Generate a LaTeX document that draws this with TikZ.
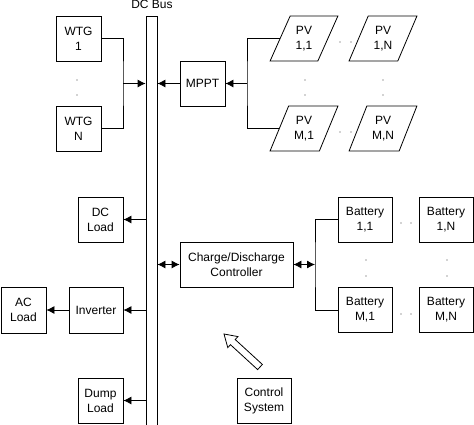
\documentclass[tikz,border=0pt]{standalone}
\usepackage{fontspec}
\setmainfont{Liberation Sans}
\usetikzlibrary{arrows.meta, positioning, shapes.geometric, calc}

\begin{document}
\begin{tikzpicture}[
  x=1pt, y=-1pt,
  every node/.style={font=\fontsize{12}{15}\selectfont},
  box/.style={draw, line width=0.8pt, minimum width=45pt, minimum height=45pt,
    align=center, inner sep=1pt},
  pvbox/.style={draw, line width=0.8pt, trapezium, trapezium left angle=64,
    trapezium right angle=116, trapezium stretches=true, minimum width=68pt,
    minimum height=45pt, align=center, inner sep=0pt},
  line/.style={line width=0.8pt},
  arrow/.style={line width=0.8pt, -{Latex[length=8pt,width=8pt]}},
  dbl/.style={line width=0.8pt, {Latex[length=8pt,width=8pt]}-{Latex[length=8pt,width=8pt]}},
  dot/.style={fill=gray!70}
]
\useasboundingbox (0,0) rectangle (474,424);

% bus
\node[draw, line width=0.8pt, minimum width=11pt, minimum height=420pt,
  inner sep=0pt, anchor=north] (bus) at (151.5,16) {};
\node[anchor=base] (buslabel) at (152,8) {DC Bus};

% wind turbines
\node[box] (wtg1) at (78.5,38.5) {WTG\\1};
\node[box] (wtgN) at (78.5,128.5) {WTG\\N};
\coordinate (wj) at (123,83.5);
\draw[line] (wtg1.east) -| (wj) |- (wtgN.east);
\draw[arrow] (wj) -- (wj -| bus.west);

% photovoltaic side
\node[box] (mppt) at (202.5,83.5) {MPPT};
\node[pvbox] (pv11) at (304,38.5) {PV\\1,1};
\node[pvbox] (pv1N) at (383,38.5) {PV\\1,N};
\node[pvbox] (pvM1) at (304,128.5) {PV\\M,1};
\node[pvbox] (pvMN) at (383,128.5) {PV\\M,N};
\coordinate (pj) at (247,83.5);
\draw[line] (pv11.west) -| (pj) |- (pvM1.west);
\draw[arrow] (pj) -- (mppt.east);
\draw[arrow] (mppt.west) -- (mppt.west -| bus.east);

% loads
\node[box] (dcload) at (100.5,219.5) {DC\\Load};
\node[box, minimum width=54pt, minimum height=46pt] (inverter) at (96,310) {Inverter};
\node[box, minimum height=46pt] (acload) at (23.5,310) {AC\\Load};
\node[box] (dumpload) at (100.5,400.5) {Dump\\Load};
\draw[arrow] (dcload.east -| bus.west) -- (dcload.east);
\draw[arrow] (inverter.east -| bus.west) -- (inverter.east);
\draw[arrow] (inverter.west) -- (acload.east);
\draw[arrow] (dumpload.east -| bus.west) -- (dumpload.east);

% storage
\node[box, minimum width=113pt] (ctrl) at (236.5,264.5) {Charge/Discharge\\Controller};
\node[box, minimum width=54pt] (bat11) at (365,219.5) {Battery\\1,1};
\node[box, minimum width=54pt] (bat1N) at (446,219.5) {Battery\\1,N};
\node[box, minimum width=54pt] (batM1) at (365,310) {Battery\\M,1};
\node[box, minimum width=54pt] (batMN) at (446,310) {Battery\\M,N};
\coordinate (bj) at (315,264.5);
\draw[line] (bat11.west) -| (bj) |- (batM1.west);
\draw[dbl] (ctrl.east) -- (bj);
\draw[dbl] (ctrl.west -| bus.east) -- (ctrl.west);

% control
\node[box, minimum width=54pt] (ctrlsys) at (264,400.5) {Control\\System};
\coordinate (ctip) at (224,334);
\coordinate (ctail) at (260,367);
\coordinate (chead) at ($(ctip)!12pt!(ctail)$);
\draw[line, fill=white] (ctip) -- ($(chead)!7.5pt!90:(ctip)$) -- ($(chead)!3.5pt!90:(ctip)$)
  -- ($(ctail)!3.5pt!90:(ctip)$) -- ($(ctail)!3.5pt!-90:(ctip)$)
  -- ($(chead)!3.5pt!-90:(ctip)$) -- ($(chead)!7.5pt!-90:(ctip)$) -- cycle;

% dots
\foreach \px/\py in {77/80, 77/95, 305/80, 305/95, 383/80, 383/95,
    340/42, 351/42, 340/132, 351/132,
    401/223, 411/223, 401/314, 411/314,
    366/260, 366/276, 447/260, 447/276}
  \fill[dot] (\px,\py) circle (0.8pt);
\end{tikzpicture}
\end{document}
